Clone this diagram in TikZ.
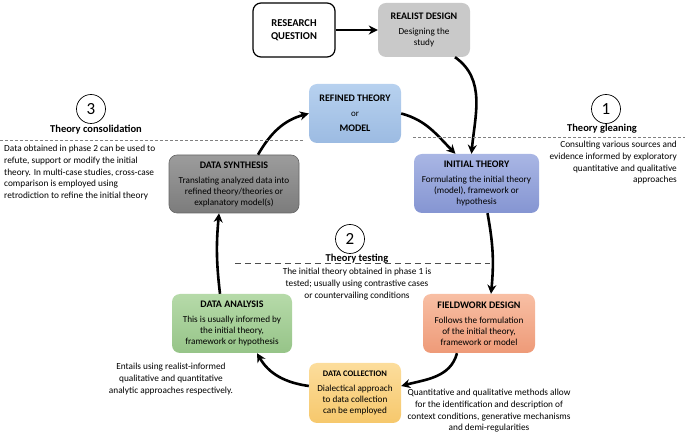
\documentclass[tikz,border=0pt]{standalone}
\usepackage{fontspec}
\setmainfont{Carlito}
\usepackage{xcolor}
\usepackage{tikz}
\usetikzlibrary{positioning,shapes,arrows.meta}

\definecolor{designgray}{HTML}{C9C9C9}
\definecolor{refinedtop}{HTML}{B7D1EF}
\definecolor{refinedbot}{HTML}{9CBBE2}
\definecolor{initialtop}{HTML}{A9B6E4}
\definecolor{initialbot}{HTML}{8595D2}
\definecolor{fieldtop}{HTML}{F8BFA4}
\definecolor{fieldbot}{HTML}{EE9A78}
\definecolor{collecttop}{HTML}{FCDD9C}
\definecolor{collectbot}{HTML}{F6C86C}
\definecolor{analysistop}{HTML}{B6DAA9}
\definecolor{analysisbot}{HTML}{96C488}
\definecolor{synthtop}{HTML}{9C9C9C}
\definecolor{synthbot}{HTML}{7C7C7C}

\newcommand{\stagetitle}[1]{{\fontsize{10}{12}\selectfont\bfseries #1}}

\tikzset{
  stagebox/.style={rounded corners=8pt, align=center, inner sep=2pt,
    font=\fontsize{9.2}{11}\selectfont},
  flow/.style={line width=2.6pt, -{Stealth[length=9pt,width=9pt]}},
  phasecircle/.style={circle, draw, line width=0.7pt, minimum size=29pt,
    inner sep=0pt, font=\fontsize{17}{17}\selectfont},
  phasetitle/.style={font=\fontsize{10.5}{12}\selectfont\bfseries, inner sep=0pt},
  note/.style={font=\fontsize{9.3}{11.7}\selectfont, inner sep=0pt},
  sepline/.style={gray, line width=0.6pt, dash pattern=on 3pt off 2pt},
}

\begin{document}
\begin{tikzpicture}[x=1pt,y=1pt]

\useasboundingbox (0,0) rectangle (685,436);

% Stages of the cycle
\node[stagebox, draw=black, line width=1.2pt, fill=white, minimum width=82pt, minimum height=54pt,
  font=\fontsize{10.5}{13}\selectfont\bfseries] (question) at (294,406) {RESEARCH\\QUESTION};
\node[stagebox, fill=designgray, minimum width=92pt, minimum height=54pt] (design) at (424,406)
  {\stagetitle{REALIST DESIGN}\\[4pt] Designing the\\study};
\node[stagebox, top color=refinedtop, bottom color=refinedbot, minimum width=92pt, minimum height=59pt,
  font=\fontsize{10}{12}\selectfont\bfseries] (refined) at (355,322.5)
  {REFINED THEORY\\[3pt] {\mdseries\fontsize{9}{10}\selectfont or}\\[3pt] MODEL};
\node[stagebox, top color=initialtop, bottom color=initialbot, minimum width=125pt, minimum height=59pt]
  (initial) at (476.5,252.5)
  {\stagetitle{INITIAL THEORY}\\[4pt] Formulating the initial theory\\(model), framework or\\hypothesis};
\node[stagebox, top color=fieldtop, bottom color=fieldbot, minimum width=112pt, minimum height=59pt]
  (fieldwork) at (479,112.5)
  {\stagetitle{FIELDWORK DESIGN}\\[4pt] Follows the formulation\\of the initial theory,\\framework or model};
\node[stagebox, top color=collecttop, bottom color=collectbot, minimum width=92pt, minimum height=60pt]
  (collection) at (355,43)
  {{\bfseries\fontsize{8.5}{10}\selectfont DATA COLLECTION}\\[4pt] Dialectical approach\\to data collection\\can be employed};
\node[stagebox, top color=analysistop, bottom color=analysisbot, minimum width=120pt, minimum height=59pt]
  (analysis) at (232,112.5)
  {\stagetitle{DATA ANALYSIS}\\[4pt] This is usually informed by\\the initial theory,\\framework or hypothesis};
\node[stagebox, draw=black!60, line width=0.6pt, top color=synthtop, bottom color=synthbot,
  minimum width=130pt, minimum height=58pt] (synthesis) at (234,252)
  {\stagetitle{DATA SYNTHESIS}\\[4pt] Translating analyzed data into\\refined theory/theories or\\explanatory model(s)};

% Arrows
\draw[flow] (question) -- (design);
\draw[flow] ([xshift=31pt]design.south) to[out=-35,in=85] ([xshift=-5pt]initial.north);
\draw[flow] (refined.east) to[out=-15,in=135] ([xshift=-21pt]initial.north);
\draw[flow] ([xshift=11pt]initial.south) to[bend left=8] ([xshift=12pt]fieldwork.north);
\draw[flow] ([xshift=-22pt]fieldwork.south) to[out=-105,in=15] ([yshift=7pt]collection.east);
\draw[flow] ([yshift=7pt]collection.west) to[out=172,in=-60] ([xshift=25pt]analysis.south);
\draw[flow] ([xshift=-12pt]analysis.north) to[bend left=6] ([xshift=-15pt]synthesis.south);
\draw[flow] ([xshift=24pt]synthesis.north) to[out=60,in=195] (refined.west);

% Phase 3
\node[phasecircle] (three) at (91,327) {3};
\node[phasetitle] (consolTitle) at (96,306) {Theory consolidation};
\draw[sepline] (0,296) -- (303,296);
\node[note, anchor=north west, align=left] (consolText) at (4,291)
  {Data obtained in phase 2 can be used to\\refute, support or modify the initial\\theory. In multi-case studies, cross-case\\comparison is employed using\\retrodiction to refine the initial theory};

% Phase 1
\node[phasecircle] (one) at (606,327) {1};
\node[phasetitle] (gleanTitle) at (602,307) {Theory gleaning};
\draw[sepline] (413,299) -- (685,299);
\node[note, anchor=north east, align=right] (gleanText) at (677,295)
  {Consulting various sources and\\evidence informed by exploratory\\quantitative and qualitative\\approaches};

% Phase 2
\node[phasecircle] (two) at (350,197) {2};
\node[phasetitle] (testTitle) at (357,177) {Theory testing};
\draw[sepline, black!70, dash pattern=on 6pt off 4pt] (235,173) -- (490,173);
\node[note, align=center] (testText) at (357,152)
  {The initial theory obtained in phase 1 is\\tested; usually using contrastive cases\\or countervailing conditions};

% Side notes
\node[note, align=center] (analysisText) at (171,57)
  {Entails using realist-informed\\qualitative and quantitative\\analytic approaches respectively.};
\node[note, align=center] (collectText) at (489,25)
  {Quantitative and qualitative methods allow\\for the identification and description of\\context conditions, generative mechanisms\\and demi-regularities};

\end{tikzpicture}
\end{document}
